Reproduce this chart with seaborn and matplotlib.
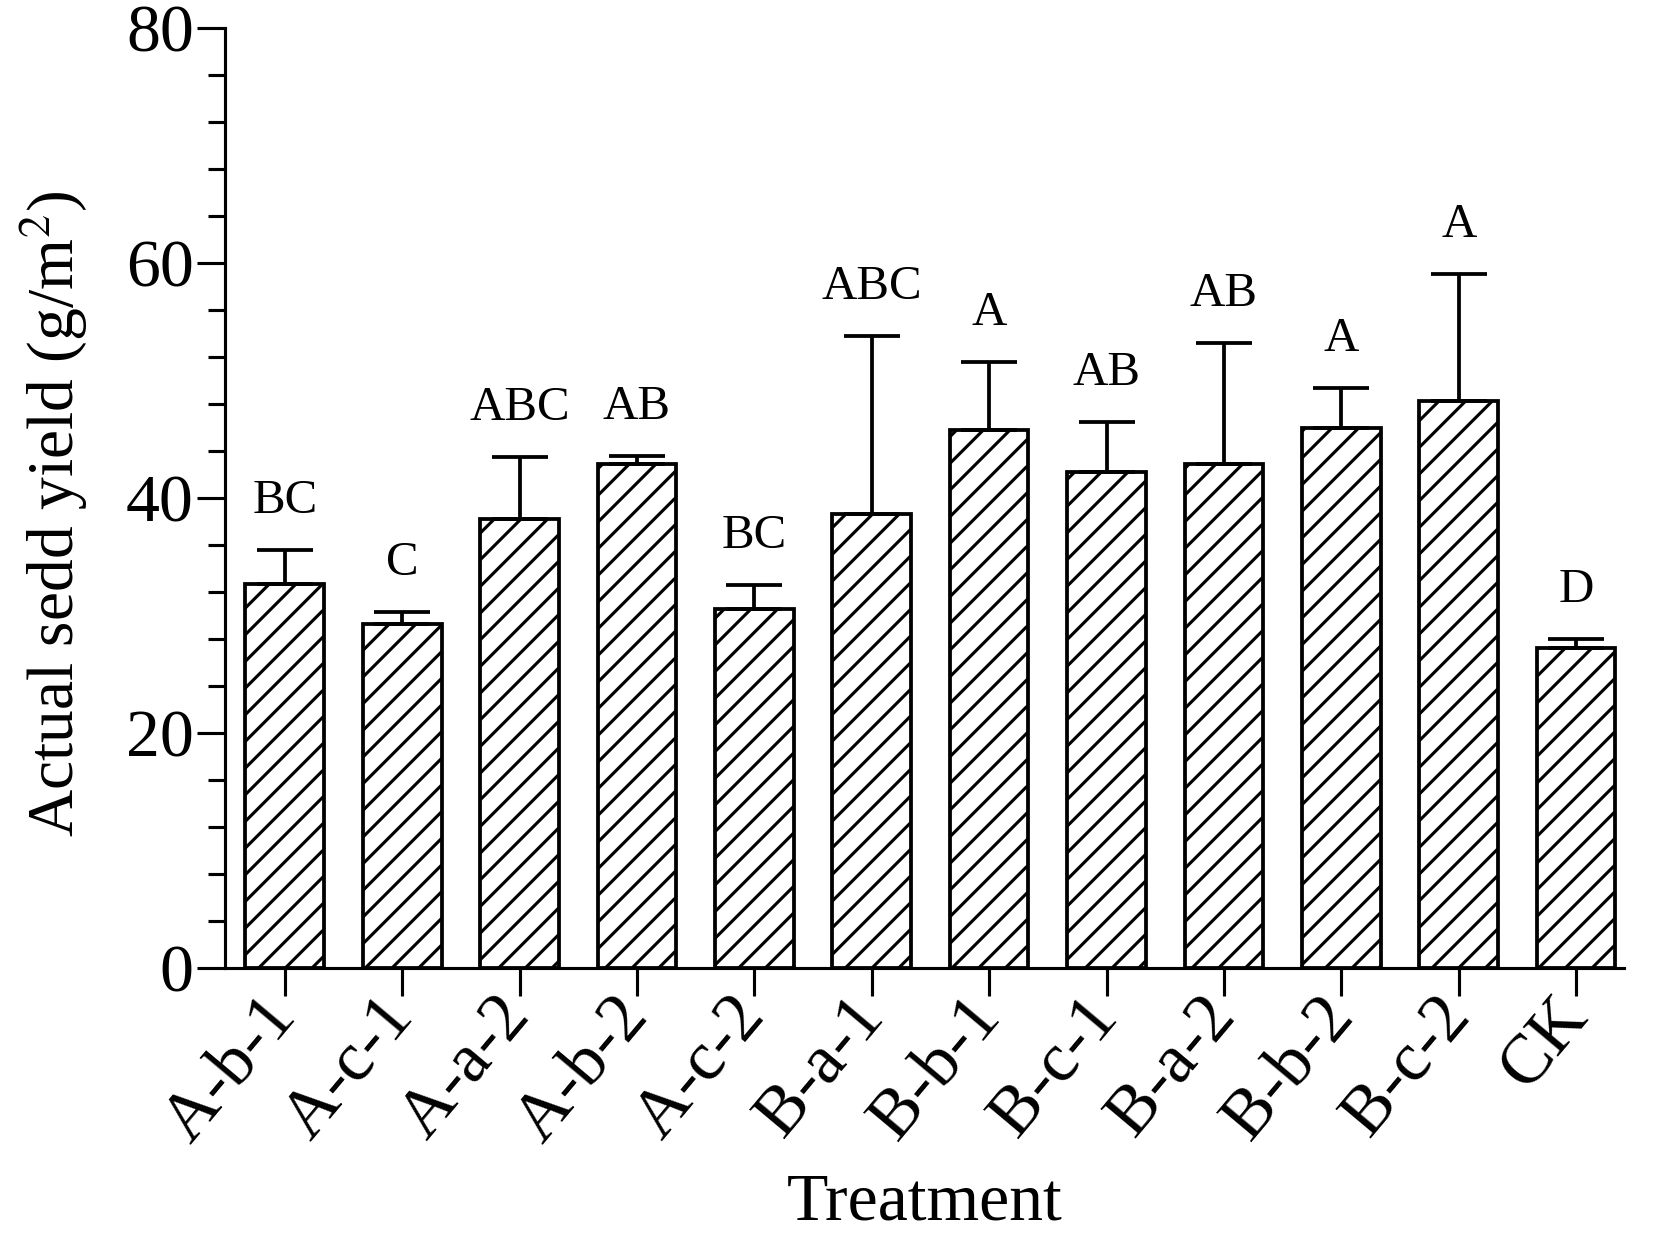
import numpy as np
import matplotlib
matplotlib.use("Agg")
import matplotlib.pyplot as plt
import seaborn as sns
import pandas as pd
from matplotlib.ticker import MultipleLocator

# values
treatments = ['A-b-1', 'A-c-1', 'A-a-2', 'A-b-2', 'A-c-2', 'B-a-1',
              'B-b-1', 'B-c-1', 'B-a-2', 'B-b-2', 'B-c-2', 'CK']
yield_mean = [32.7, 29.3, 38.2, 42.9, 30.6, 38.7, 45.8, 42.2, 42.9, 46.0, 48.3, 27.3]
yield_err = [2.9, 1.0, 5.3, 0.7, 2.0, 15.1, 5.8, 4.3, 10.3, 3.4, 10.8, 0.7]
letters = ['BC', 'C', 'ABC', 'AB', 'BC', 'ABC', 'A', 'AB', 'AB', 'A', 'A', 'D']

df = pd.DataFrame({'Treatment': treatments, 'Yield': yield_mean})

sns.set_style('ticks')
plt.rcParams['font.family'] = ['Liberation Serif', 'DejaVu Serif']
plt.rcParams['mathtext.fontset'] = 'stix'
plt.rcParams['hatch.linewidth'] = 2.8
plt.rcParams['hatch.color'] = 'black'
plt.rcParams['text.color'] = 'black'
plt.rcParams['axes.labelcolor'] = 'black'
plt.rcParams['xtick.color'] = 'black'
plt.rcParams['ytick.color'] = 'black'
plt.rcParams['axes.edgecolor'] = 'black'

DPI = 80
fig = plt.figure(figsize=(1654 / DPI, 1235 / DPI), dpi=DPI)
ax = fig.add_axes([0.136, 0.216, 0.846, 0.761])

sns.barplot(data=df, x='Treatment', y='Yield', color='white', width=0.67,
            edgecolor='black', linewidth=3.4, errorbar=None, ax=ax)
for p in ax.patches:
    p.set_hatch('/')

xpos = np.arange(len(treatments))
ax.errorbar(xpos, yield_mean, yerr=[np.zeros(len(yield_err)), yield_err],
            fmt='none', ecolor='black', elinewidth=3.4, capsize=25, capthick=3.4,
            zorder=1)

for x, m, e, lab in zip(xpos, yield_mean, yield_err, letters):
    ax.text(x, m + e + 2.3, lab, ha='center', va='bottom', fontsize=44)

ax.set_ylim(0, 80)
ax.set_xlim(-0.51, 11.41)
ax.yaxis.set_major_locator(MultipleLocator(20))
ax.yaxis.set_minor_locator(MultipleLocator(4))

sns.despine(ax=ax)
for s in ['left', 'bottom']:
    ax.spines[s].set_linewidth(2.8)

ax.tick_params(axis='y', which='major', length=25, width=2.8, labelsize=61, pad=3)
ax.tick_params(axis='y', which='minor', length=15, width=2.8)
ax.tick_params(axis='x', which='major', length=25, width=2.8, labelsize=63, pad=9)
plt.setp(ax.get_xticklabels(), rotation=50, ha='right', va='center',
         rotation_mode='anchor')

ax.set_xlabel('Treatment', fontsize=61, labelpad=16)
ax.set_ylabel('Actual sedd yield (g/m$^2$)', fontsize=59)
ax.yaxis.set_label_coords(-0.097, 0.483)

fig.savefig('out.png', dpi=DPI)
